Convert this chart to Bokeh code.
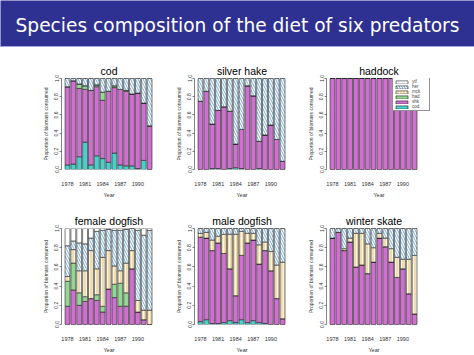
from bokeh.plotting import figure
from bokeh.models import Range1d, FixedTicker, PrintfTickFormatter, Legend, LegendItem, ColumnDataSource
from bokeh.layouts import column, row
from bokeh.transform import stack
from bokeh.embed import file_html
from bokeh.resources import INLINE
from bokeh.core.properties import value

page_title = "Species composition of the diet of six predators"
years = [1978, 1979, 1980, 1981, 1982, 1983, 1984, 1985, 1986, 1987, 1988, 1989, 1990, 1991, 1992]
year_ticks = [1978, 1981, 1984, 1987, 1990]
y_ticks = [0.0, 0.2, 0.4, 0.6, 0.8, 1.0]
layers = ["cod", "shk", "had", "mck", "her", "ytf"]
legend_order = ["ytf", "her", "mck", "had", "shk", "cod"]

cod = dict(
    cod=[0.05, 0.06, 0.14, 0.30, 0.05, 0.15, 0.12, 0.08, 0.18, 0.05, 0.04, 0.04, 0.01, 0.10, 0.00],
    shk=[0.86, 0.915, 0.75, 0.58, 0.82, 0.76, 0.64, 0.78, 0.72, 0.83, 0.82, 0.79, 0.83, 0.63, 0.48],
    had=[0.00, 0.00, 0.05, 0.04, 0.00, 0.02, 0.09, 0.00, 0.02, 0.00, 0.01, 0.00, 0.00, 0.00, 0.00],
    mck=[0.00, 0.00, 0.00, 0.00, 0.00, 0.00, 0.00, 0.00, 0.00, 0.00, 0.00, 0.00, 0.00, 0.00, 0.00],
    her=[0.09, 0.025, 0.06, 0.08, 0.13, 0.07, 0.15, 0.14, 0.08, 0.12, 0.13, 0.17, 0.16, 0.27, 0.52],
    ytf=[0.00, 0.00, 0.00, 0.00, 0.00, 0.00, 0.00, 0.00, 0.00, 0.00, 0.00, 0.00, 0.00, 0.00, 0.00],
)
silver_hake = dict(
    cod=[0.00, 0.00, 0.01, 0.01, 0.00, 0.01, 0.02, 0.01, 0.00, 0.00, 0.01, 0.00, 0.00, 0.00, 0.00],
    shk=[0.75, 0.86, 0.49, 0.64, 0.69, 0.63, 0.26, 0.43, 0.92, 0.81, 0.30, 0.38, 0.49, 0.33, 0.09],
    had=[0.00, 0.00, 0.00, 0.00, 0.00, 0.00, 0.00, 0.00, 0.00, 0.00, 0.00, 0.00, 0.00, 0.00, 0.00],
    mck=[0.00, 0.00, 0.00, 0.00, 0.00, 0.00, 0.00, 0.00, 0.00, 0.00, 0.00, 0.00, 0.00, 0.00, 0.00],
    her=[0.25, 0.14, 0.50, 0.35, 0.31, 0.36, 0.72, 0.56, 0.08, 0.19, 0.69, 0.62, 0.51, 0.67, 0.91],
    ytf=[0.00, 0.00, 0.00, 0.00, 0.00, 0.00, 0.00, 0.00, 0.00, 0.00, 0.00, 0.00, 0.00, 0.00, 0.00],
)
haddock = dict(
    cod=[0.00, 0.00, 0.00, 0.00, 0.00, 0.00, 0.00, 0.00, 0.00, 0.00, 0.00, 0.00, 0.00, 0.00, 0.00],
    shk=[1.00, 1.00, 1.00, 1.00, 1.00, 1.00, 1.00, 1.00, 1.00, 1.00, 1.00, 1.00, 1.00, 1.00, 1.00],
    had=[0.00, 0.00, 0.00, 0.00, 0.00, 0.00, 0.00, 0.00, 0.00, 0.00, 0.00, 0.00, 0.00, 0.00, 0.00],
    mck=[0.00, 0.00, 0.00, 0.00, 0.00, 0.00, 0.00, 0.00, 0.00, 0.00, 0.00, 0.00, 0.00, 0.00, 0.00],
    her=[0.00, 0.00, 0.00, 0.00, 0.00, 0.00, 0.00, 0.00, 0.00, 0.00, 0.00, 0.00, 0.00, 0.00, 0.00],
    ytf=[0.00, 0.00, 0.00, 0.00, 0.00, 0.00, 0.00, 0.00, 0.00, 0.00, 0.00, 0.00, 0.00, 0.00, 0.00],
)
female_dogfish = dict(
    cod=[0.00, 0.00, 0.00, 0.00, 0.00, 0.00, 0.00, 0.00, 0.00, 0.00, 0.00, 0.00, 0.00, 0.00, 0.00],
    shk=[0.19, 0.36, 0.20, 0.24, 0.27, 0.25, 0.13, 0.37, 0.28, 0.19, 0.19, 0.58, 0.13, 0.05, 0.00],
    had=[0.26, 0.28, 0.13, 0.05, 0.00, 0.06, 0.06, 0.00, 0.14, 0.24, 0.14, 0.00, 0.00, 0.00, 0.00],
    mck=[0.05, 0.14, 0.23, 0.27, 0.50, 0.27, 0.51, 0.40, 0.19, 0.13, 0.31, 0.19, 0.12, 0.10, 0.15],
    her=[0.32, 0.09, 0.29, 0.28, 0.13, 0.39, 0.28, 0.22, 0.37, 0.42, 0.35, 0.23, 0.73, 0.78, 0.83],
    ytf=[0.18, 0.13, 0.15, 0.16, 0.10, 0.03, 0.02, 0.01, 0.02, 0.02, 0.01, 0.00, 0.02, 0.07, 0.02],
)
male_dogfish = dict(
    cod=[0.03, 0.05, 0.01, 0.01, 0.02, 0.04, 0.02, 0.05, 0.02, 0.04, 0.02, 0.01, 0.00, 0.00, 0.00],
    shk=[0.88, 0.85, 0.76, 0.84, 0.72, 0.54, 0.28, 0.67, 0.83, 0.84, 0.61, 0.76, 0.56, 0.27, 0.06],
    had=[0.00, 0.00, 0.00, 0.00, 0.00, 0.00, 0.00, 0.00, 0.00, 0.00, 0.00, 0.00, 0.00, 0.00, 0.00],
    mck=[0.04, 0.06, 0.11, 0.07, 0.20, 0.36, 0.64, 0.25, 0.10, 0.07, 0.20, 0.09, 0.20, 0.35, 0.59],
    her=[0.05, 0.04, 0.12, 0.08, 0.06, 0.06, 0.06, 0.03, 0.05, 0.05, 0.17, 0.14, 0.24, 0.38, 0.35],
    ytf=[0.00, 0.00, 0.00, 0.00, 0.00, 0.00, 0.00, 0.00, 0.00, 0.00, 0.00, 0.00, 0.00, 0.00, 0.00],
)
winter_skate = dict(
    cod=[0.00, 0.00, 0.00, 0.00, 0.00, 0.00, 0.00, 0.00, 0.00, 0.00, 0.00, 0.00, 0.00, 0.00, 0.00],
    shk=[0.90, 0.96, 0.77, 0.86, 0.60, 0.62, 0.53, 0.65, 0.90, 0.81, 0.65, 0.49, 0.58, 0.32, 0.11],
    had=[0.00, 0.00, 0.00, 0.00, 0.00, 0.00, 0.00, 0.00, 0.00, 0.00, 0.00, 0.00, 0.00, 0.00, 0.00],
    mck=[0.00, 0.00, 0.02, 0.04, 0.35, 0.33, 0.31, 0.15, 0.05, 0.09, 0.14, 0.21, 0.10, 0.36, 0.61],
    her=[0.10, 0.04, 0.21, 0.10, 0.05, 0.05, 0.16, 0.20, 0.05, 0.10, 0.21, 0.30, 0.32, 0.32, 0.28],
    ytf=[0.00, 0.00, 0.00, 0.00, 0.00, 0.00, 0.00, 0.00, 0.00, 0.00, 0.00, 0.00, 0.00, 0.00, 0.00],
)

styles = {
    "cod": dict(fill_color="#48d1cc"),
    "shk": dict(fill_color="#cf6fcf"),
    "had": dict(fill_color="#94d694"),
    "mck": dict(fill_color="#f0dcae", hatch_pattern="|", hatch_color="#fff7e6", hatch_scale=3, hatch_weight=1),
    "her": dict(fill_color="white", hatch_pattern="\\", hatch_color="#7aaed6", hatch_scale=5, hatch_weight=1),
    "ytf": dict(fill_color="white"),
}

FONT = "Liberation Sans"
AXIS_COLOR = "#333333"


def panel(name, data, width, left, right, height, top, bottom,
          x_end=1993.18, title_offset=0, legend=False):
    p = figure(width=width, height=height, x_range=Range1d(1976.98, x_end), y_range=Range1d(0, 1),
               toolbar_location=None, output_backend="svg", title=name,
               min_border_left=left, min_border_right=right, min_border_top=top, min_border_bottom=bottom)
    src = ColumnDataSource(dict(year=years, **data))
    renderers = {}
    for i, lay in enumerate(layers):
        r = p.vbar(x="year", width=0.83, bottom=stack(*layers[:i]) if i else 0, top=stack(*layers[:i + 1]),
                   source=src, line_color="#222222", line_width=0.6, **styles[lay])
        renderers[lay] = r
    p.title.align = "center"
    p.title.text_font = FONT
    p.title.text_font_style = "normal"
    p.title.text_font_size = "10.5px"
    p.title.text_color = "black"
    p.title.standoff = 3
    p.title.offset = title_offset
    p.xgrid.visible = False
    p.ygrid.visible = False
    p.outline_line_color = None
    p.background_fill_color = "white"
    p.border_fill_color = "white"

    xa = p.xaxis[0]
    xa.ticker = FixedTicker(ticks=year_ticks)
    xa.axis_line_color = None
    xa.major_tick_line_color = None
    xa.minor_tick_line_color = None
    xa.major_label_text_font = FONT
    xa.major_label_text_font_size = "5.5px"
    xa.major_label_text_color = AXIS_COLOR
    xa.major_label_standoff = 6
    xa.axis_label = "Year"
    xa.axis_label_text_font = FONT
    xa.axis_label_text_font_size = "5.5px"
    xa.axis_label_text_font_style = "normal"
    xa.axis_label_text_color = AXIS_COLOR
    xa.axis_label_standoff = 3

    ya = p.yaxis[0]
    ya.ticker = FixedTicker(ticks=y_ticks)
    ya.formatter = PrintfTickFormatter(format="%.1f")
    ya.major_label_orientation = "vertical"
    ya.axis_line_color = AXIS_COLOR
    ya.axis_line_width = 0.6
    ya.major_tick_line_color = AXIS_COLOR
    ya.major_tick_line_width = 0.6
    ya.major_tick_out = 2
    ya.major_tick_in = 0
    ya.minor_tick_line_color = None
    ya.major_label_text_font = FONT
    ya.major_label_text_font_size = "5px"
    ya.major_label_text_color = AXIS_COLOR
    ya.major_label_standoff = 1
    ya.axis_label = "Proportion of biomass consumed"
    ya.axis_label_text_font = FONT
    ya.axis_label_text_font_size = "5px"
    ya.axis_label_text_font_style = "normal"
    ya.axis_label_text_color = AXIS_COLOR
    ya.axis_label_standoff = 3

    if legend:
        items = [LegendItem(label=k, renderers=[renderers[k]]) for k in legend_order]
        lg = Legend(items=items, location=(66, 58), orientation="vertical",
                    glyph_width=15, glyph_height=4, label_height=5, label_width=16,
                    label_text_font=FONT, label_text_font_size="4.5px", label_standoff=3,
                    spacing=0, padding=1, margin=0,
                    border_line_color="#222222", border_line_width=0.7,
                    background_fill_color="white", background_fill_alpha=1.0)
        p.add_layout(lg, "center")
    return p


banner = figure(width=474, height=47, x_range=Range1d(0, 1), y_range=Range1d(0, 47),
                toolbar_location=None, output_backend="svg", min_border=0,
                x_axis_location=None, y_axis_location=None)
banner.xgrid.visible = False
banner.ygrid.visible = False
banner.outline_line_color = None
banner.background_fill_color = "#2f3192"
banner.border_fill_color = "#2f3192"
banner.quad(left=[0], right=[1], bottom=[0], top=[1.5], fill_color="#a4a6dc", line_color=None)
banner.text(x=[0.5], y=[22], text=[page_title], text_align="center", text_baseline="middle",
            text_color="white", text_font=value("DejaVu Sans"), text_font_size="18.6px")

p1 = panel("cod", cod, 170, 61, 14, 153, 31, 27)
p2 = panel("silver hake", silver_hake, 133, 24, 14, 153, 31, 27)
p3 = panel("haddock", haddock, 171, 23, 43, 153, 31, 27,
           x_end=1994.885, title_offset=-5, legend=True)
p4 = panel("female dogfish", female_dogfish, 170, 61, 14, 155, 28, 31)
p5 = panel("male dogfish", male_dogfish, 133, 24, 14, 155, 28, 31)
p6 = panel("winter skate", winter_skate, 171, 23, 53, 155, 28, 31)

layout = column(banner, row(p1, p2, p3), row(p4, p5, p6))
open("out.html", "w").write(file_html(layout, INLINE))
